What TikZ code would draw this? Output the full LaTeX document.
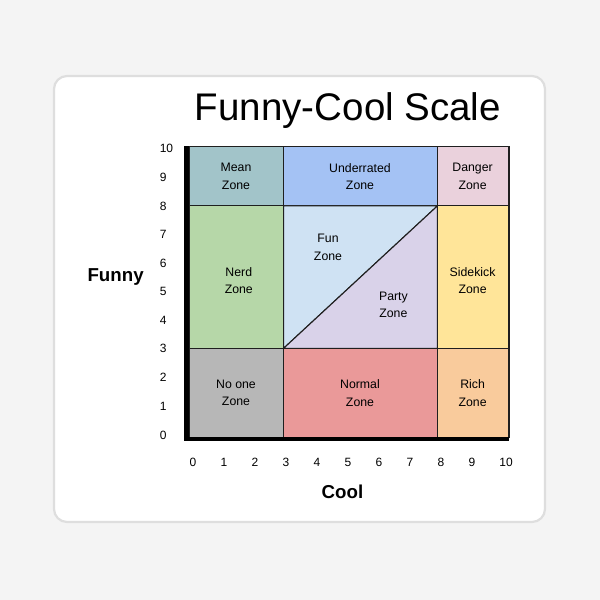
\documentclass[tikz,border=0pt]{standalone}
\usepackage{fontspec}
\setmainfont{Liberation Sans}
\definecolor{bgc}{HTML}{F4F4F4}
\definecolor{meanc}{HTML}{A2C4C9}
\definecolor{underc}{HTML}{A4C2F4}
\definecolor{dangerc}{HTML}{EAD1DC}
\definecolor{nerdc}{HTML}{B6D7A8}
\definecolor{func}{HTML}{CFE2F3}
\definecolor{partyc}{HTML}{D9D2E9}
\definecolor{sidec}{HTML}{FFE599}
\definecolor{noonec}{HTML}{B7B7B7}
\definecolor{normalc}{HTML}{EA9999}
\definecolor{richc}{HTML}{F9CB9C}
\tikzset{
  cell/.style={draw=black!88, line width=1.1pt},
  zonelabel/.style={align=center, inner sep=0pt, font=\fontsize{12.3}{17.6}\selectfont},
  ticklabel/.style={inner sep=0pt, font=\fontsize{12}{14}\selectfont},
  axistitle/.style={inner sep=0pt, font=\fontsize{18.7}{22}\selectfont\bfseries},
}
\begin{document}
\begin{tikzpicture}[x=1pt,y=-1pt]
\useasboundingbox (0,0) rectangle (600,600);
\fill[bgc] (0,0) rectangle (600,600);
% sticker
\draw[line width=2.2pt, draw=black!13, fill=white, rounded corners=13pt] (54,76) rectangle (545,522);
% grid coordinates
\coordinate (A) at (189,146.6);
\coordinate (B) at (283.6,146.6);
\coordinate (C) at (437.4,146.6);
\coordinate (D) at (509,146.6);
\coordinate (E) at (189,205.9);
\coordinate (F) at (283.6,205.9);
\coordinate (G) at (437.4,205.9);
\coordinate (H) at (509,205.9);
\coordinate (I) at (189,348.3);
\coordinate (J) at (283.6,348.3);
\coordinate (K) at (437.4,348.3);
\coordinate (L) at (509,348.3);
\coordinate (M) at (189,437.4);
\coordinate (N) at (283.6,437.4);
\coordinate (O) at (437.4,437.4);
\coordinate (P) at (509,437.4);
% cells
\filldraw[cell, fill=meanc] (A) rectangle (F);
\filldraw[cell, fill=underc] (B) rectangle (G);
\filldraw[cell, fill=dangerc] (C) rectangle (H);
\filldraw[cell, fill=nerdc] (E) rectangle (J);
\filldraw[cell, fill=func] (F) -- (G) -- (J) -- cycle;
\filldraw[cell, fill=partyc] (G) -- (K) -- (J) -- cycle;
\filldraw[cell, fill=sidec] (G) rectangle (L);
\filldraw[cell, fill=noonec] (I) rectangle (N);
\filldraw[cell, fill=normalc] (J) rectangle (O);
\filldraw[cell, fill=richc] (K) rectangle (P);
% axes
\fill[black] (183.5,145.5) rectangle (189,440.8);
\fill[black] (183.5,437.2) rectangle (509,440.8);
% title
\node[inner sep=0pt, font=\fontsize{38.5}{44}\selectfont] (title) at (348,111) {Funny-Cool Scale};
\node[axistitle] (funny) at (115.6,277.5) {Funny};
\node[axistitle] (cool) at (342.5,492) {Cool};
% zone labels
\node[zonelabel] (mean) at (236,176.4) {Mean\\Zone};
\node[zonelabel] (under) at (360,176.4) {Underrated\\Zone};
\node[zonelabel] (danger) at (472.6,176.4) {Danger\\Zone};
\node[zonelabel] (nerd) at (238.8,280.4) {Nerd\\Zone};
\node[zonelabel] (fun) at (328,247.5) {Fun\\Zone};
\node[zonelabel] (party) at (393.4,305) {Party\\Zone};
\node[zonelabel] (side) at (472.6,280.4) {Sidekick\\Zone};
\node[zonelabel] (noone) at (236,393) {No one\\Zone};
\node[zonelabel] (normal) at (360,393) {Normal\\Zone};
\node[zonelabel] (rich) at (472.6,393) {Rich\\Zone};
% y ticks
\foreach \v/\yy in {10/148.5,9/177,8/206,7/234.5,6/263,5/291.6,4/320,3/348.6,2/377.5,1/406,0/435}
  \node[ticklabel, anchor=west] (yt\v) at (159.6,\yy) {\v};
% x ticks
\foreach \v/\xx in {0/193,1/224,2/255,3/286,4/317,5/348,6/379,7/410,8/441,9/472,10/506}
  \node[ticklabel] (xt\v) at (\xx,462) {\v};
\end{tikzpicture}
\end{document}
